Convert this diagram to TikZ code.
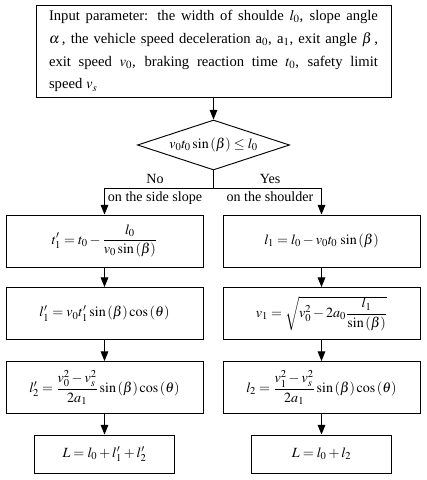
\documentclass[tikz,border=0pt]{standalone}
\usepackage{mathptmx}
\usepackage[no-math]{fontspec}
\setmainfont{Liberation Serif}
\usepackage{amsmath}
\usetikzlibrary{shapes.geometric,arrows.meta}

\begin{document}
\begin{tikzpicture}[line width=0.8pt,>={Triangle[length=2.9mm,width=2.3mm]},font=\fontsize{12}{14}\selectfont]
    \tikzstyle{block}=[rectangle,draw=black,minimum width=5.91cm,minimum height=1.56cm,inner sep=2pt]
    \tikzstyle{result}=[block,minimum width=4.2cm,minimum height=1.14cm]
    \tikzstyle{decision}=[diamond,draw=black,aspect=3,minimum width=4.56cm,minimum height=1.5cm,inner sep=0pt]
    \useasboundingbox (0,0) rectangle (12.78,-14.4);

    \node[block,text width=9.87cm,align=justify,inner xsep=0.39cm,inner ysep=0.12cm,minimum height=2.76cm,
          font=\fontsize{12.5}{19.5}\selectfont] (input) at (6.405,-1.53)
        {Input parameter: the width of shoulde $l_0$, slope angle\linebreak
         $\alpha$\,, the vehicle speed deceleration a$_0$, a$_1$, exit angle $\beta$\,,\linebreak
         exit speed $v_0$, braking reaction time $t_0$, safety limit\linebreak
         speed $v_s$};

    \node[decision] (test) at (6.405,-4.35) {$v_0 t_0 \sin\left(\beta\right) \le l_0$};

    % left branch: on the side slope
    \node[block] (L1) at (3.135,-7.23) {$t_1' = t_0 - \dfrac{l_0}{v_0 \sin\left(\beta\right)}$};
    \node[block] (L2) at (3.135,-9.405) {$l_1' = v_0 t_1' \sin\left(\beta\right)\cos\left(\theta\right)$};
    \node[block] (L3) at (3.135,-11.625) {$l_2' = \dfrac{v_0^2 - v_s^2}{2a_1}\sin\left(\beta\right)\cos\left(\theta\right)$};
    \node[result] (L4) at (3.135,-13.62) {$L = l_0 + l_1' + l_2'$};

    % right branch: on the shoulder
    \node[block] (R1) at (9.645,-7.23) {$l_1 = l_0 - v_0 t_0 \,\sin\left(\beta\right)$};
    \node[block] (R2) at (9.645,-9.405) {$v_1 = \sqrt{v_0^2 - 2a_0\dfrac{l_1}{\sin\left(\beta\right)}}$};
    \node[block] (R3) at (9.645,-11.625) {$l_2 = \dfrac{v_1^2 - v_s^2}{2a_1}\sin\left(\beta\right)\cos\left(\theta\right)$};
    \node[result] (R4) at (9.645,-13.62) {$L = l_0 + l_2$};

    \coordinate (split) at (6.405,-5.64);
    \draw (test.south) -- (split);
    \draw[->] (split) -| (L1);
    \draw[->] (split) -| (R1);

    \node (no) at (4.65,-5.37) {No};
    \node (yes) at (8.1,-5.37) {Yes};
    \node (side) at (4.65,-5.94) {on the side slope};
    \node (shoulder) at (8.1,-5.91) {on the shoulder};

    \foreach \from/\to in {input/test,L1/L2,L2/L3,L3/L4,R1/R2,R2/R3,R3/R4}
        \draw[->] (\from) -- (\to);
\end{tikzpicture}
\end{document}
